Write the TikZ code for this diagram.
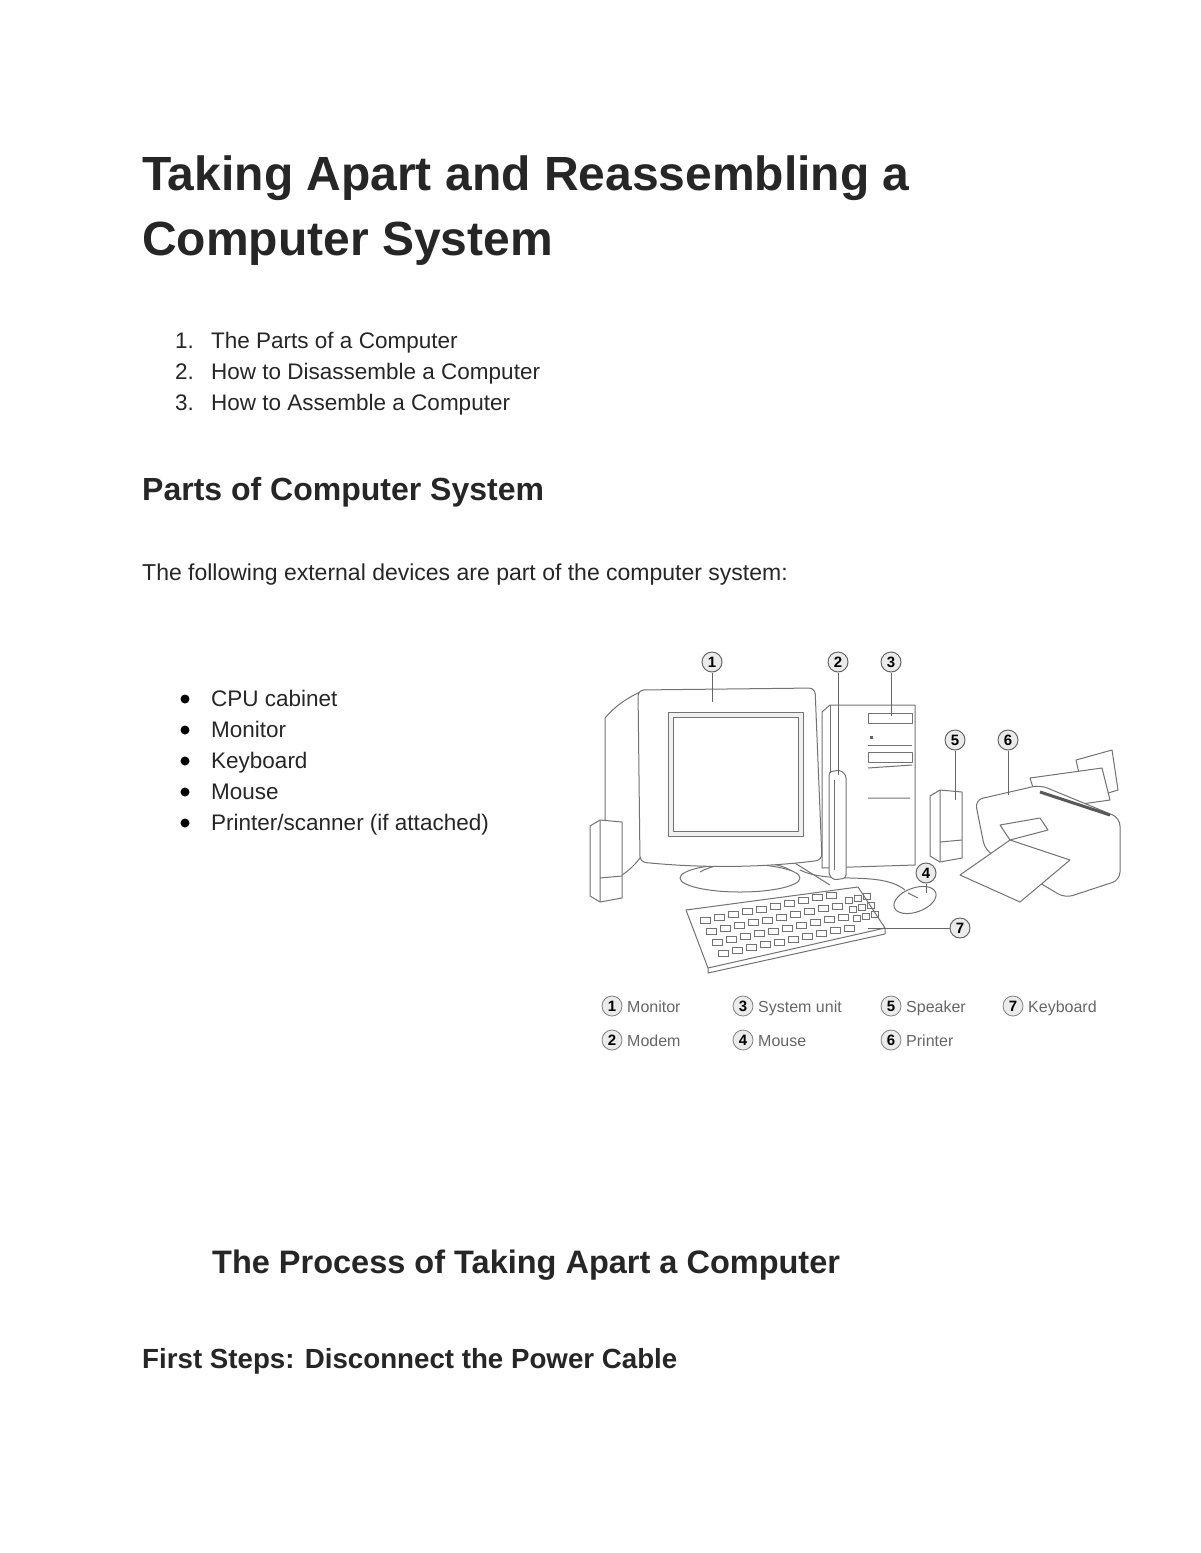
\documentclass[tikz,border=0pt]{standalone}
\usepackage{fontspec}
\usetikzlibrary{calc}
\setmainfont{Liberation Sans}
\begin{document}
\begin{tikzpicture}[x=1pt,y=-1pt,
  txt/.style={anchor=base west,inner sep=0,text=black!85},
  ln/.style={draw=black!55,line width=1pt,line join=round},
  fl/.style={ln,fill=white},
  callout/.style={circle,draw=black!60,fill=black!8,line width=1pt,minimum size=20pt,inner sep=0,font=\fontsize{15}{15}\selectfont\bfseries},
  lg/.style={circle,draw=black!50,fill=black!8,line width=0.8pt,minimum size=20pt,inner sep=0,font=\fontsize{15}{15}\selectfont\bfseries},
  lgt/.style={anchor=base west,inner sep=0,text=black!60,font=\fontsize{16}{16}\selectfont}]
\useasboundingbox (0,0) rectangle (1200,1553);
% text
\node[txt,font=\fontsize{48}{48}\selectfont\bfseries] (t1) at (142,190) {Taking Apart and Reassembling a};
\node[txt,font=\fontsize{48}{48}\selectfont\bfseries] (t2) at (142,255) {Computer System};
\foreach \n/\s [count=\i] in {1/The Parts of a Computer,2/How to Disassemble a Computer,3/How to Assemble a Computer}{
  \node[txt,font=\fontsize{22.5}{22.5}\selectfont] (ln\i) at (175,348+31*\i-31) {\n.};
  \node[txt,font=\fontsize{22.5}{22.5}\selectfont] (li\i) at (211,348+31*\i-31) {\s};}
\node[txt,font=\fontsize{32}{32}\selectfont\bfseries] (h1) at (142,500) {Parts of Computer System};
\node[txt,font=\fontsize{23}{23}\selectfont] (p1) at (142,580) {The following external devices are part of the computer system:};
\foreach \s [count=\i] in {CPU cabinet,Monitor,Keyboard,Mouse,Printer/scanner (if attached)}{
  \fill (185,699+31*\i-31) circle (4.5);
  \node[txt,font=\fontsize{22.5}{22.5}\selectfont] (b\i) at (211,706+31*\i-31) {\s};}
\node[txt,font=\fontsize{32.5}{32.5}\selectfont\bfseries] (h2) at (212,1273) {The Process of Taking Apart a Computer};
\node[txt,font=\fontsize{27.7}{27.7}\selectfont\bfseries] (h3) at (142,1368) {First Steps: Disconnect the Power Cable};
% ---- illustration ----
\draw[ln] (800,870) .. controls (830,885) and (880,870) .. (905,890);
\draw[ln] (790,860) -- (830,885);
% system unit
\draw[fl] (822,712) -- (830,705) -- (915,705) -- (915,865) -- (822,868) -- cycle;
\draw[ln] (830,705) -- (830,866);
\draw[fl] (868,713) rectangle (912,723);
\draw[fl] (868,752) rectangle (912,762);
\draw[ln] (868,745) -- (912,745);
\draw[ln] (868,768) -- (912,765) (868,798) -- (910,798);
\fill[black!60] (870,736) rectangle (873,739);
% monitor back
\draw[fl] (605,718) .. controls (620,700) and (640,692) .. (645,690) -- (645,850) .. controls (640,860) and (630,870) .. (622,875) -- (605,850) -- cycle;
% monitor base
\draw[fl] (740,878) ellipse (60 and 14);
\draw[ln] (700,872) .. controls (720,860) and (770,858) .. (790,870);
% monitor front
\draw[fl,rounded corners=6] (638,690) -- (815,688) -- (822,860) .. controls (760,868) and (700,868) .. (640,862) -- cycle;
\draw[fl,fill=black!6] (668,712) rectangle (803,836);
\draw[fl] (673,717) rectangle (798,831);
% modem
\draw[fl,rounded corners=3] (829,772) -- (840,770) -- (846,775) -- (846,878) -- (834,880) -- (829,875) -- cycle;
\draw[ln] (834,780) -- (834,870);
% left speaker
\draw[fl] (590,826) -- (600,820) -- (622,822) -- (622,898) -- (600,902) -- (590,896) -- cycle;
\draw[ln] (600,820) -- (600,902) (600,878) -- (622,876);
% right speaker
\draw[fl] (930,796) -- (940,790) -- (962,792) -- (962,858) -- (940,862) -- (930,856) -- cycle;
\draw[ln] (940,790) -- (940,862) (940,842) -- (962,840);
% printer
\draw[fl] (1076,760) -- (1112,750) -- (1118,790) -- (1085,800) -- cycle;
\draw[fl] (1030,778) -- (1102,768) -- (1110,800) -- (1040,810) -- cycle;
\draw[fl,rounded corners=8] (975,800) -- (1040,785) -- (1120,818) -- (1120,880) -- (1065,898) -- (985,850) -- cycle;
\draw[line width=3pt,black!65] (1040,792) -- (1110,815);
\draw[fl] (1000,825) -- (1040,818) -- (1048,830) -- (1010,840) -- cycle;
\draw[fl] (960,875) -- (1010,840) -- (1070,860) -- (1020,902) -- cycle;
% mouse
\draw[fl,rotate around={20:(915,900)}] (915,900) ellipse (22 and 12);
\draw[ln] (908,893) -- (918,898);
% keyboard
\draw[fl] (686,910) -- (858,887) -- (885,928) -- (708,968) -- cycle;
\draw[ln] (708,968) -- (708,973) -- (885,934) -- (885,928);
\foreach \r in {0,1,2,3}{
  \foreach \c in {0,...,9}{
    \draw[black!55,line width=0.6pt] ($(700+14*\c+6*\r,917-2.8*\c+11*\r)$) rectangle ++(10,6);}}
\foreach \c in {0,1,2}{\foreach \r in {0,1,2}{
  \draw[black!55,line width=0.6pt] ($(845+9*\c+4*\r,897-2*\c+9*\r)$) rectangle ++(7,6);}}
% callouts
\node[callout] (c1) at (712,662) {1};
\node[callout] (c2) at (838,662) {2};
\node[callout] (c3) at (891,662) {3};
\node[callout] (c5) at (955,740) {5};
\node[callout] (c6) at (1008,740) {6};
\node[callout] (c4) at (926,873) {4};
\node[callout] (c7) at (960,928) {7};
\coordinate (e1) at (712,702);
\coordinate (e2) at (838,775);
\coordinate (e3) at (891,716);
\coordinate (e5) at (955,800);
\coordinate (e6) at (1008,795);
\coordinate (e4) at (926,893);
\coordinate (e7) at (868,928);
\foreach \i in {1,...,7}{\draw[black!60,line width=0.8pt] (c\i) -- (e\i);}
% legend
\foreach \n/\s/\x/\y in {1/Monitor/612/1006,2/Modem/612/1040,3/System unit/743/1006,4/Mouse/743/1040,5/Speaker/891/1006,6/Printer/891/1040,7/Keyboard/1013/1006}{
  \node[lg] (g\n) at (\x,\y) {\n};
  \node[lgt] (gt\n) at (\x+15,\y+6) {\s};}
\end{tikzpicture}
\end{document}
